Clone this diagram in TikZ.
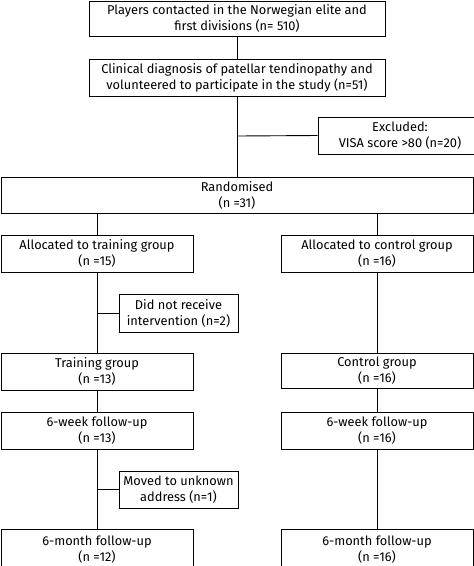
\documentclass[tikz,border=0pt]{standalone}
\usepackage{fontspec}
\setmainfont{Fira Sans}
\begin{document}
\begin{tikzpicture}[x=1pt,y=-1pt,
  box/.style={draw=black,line width=0.9pt,fill=white,align=center,inner sep=0pt,
    font=\fontsize{12.8}{16}\selectfont},
  conn/.style={draw=black,line width=0.9pt}]
\useasboundingbox (0,0) rectangle (474,566);
\node[box,minimum width=296pt,minimum height=35pt] (p1) at (237,18.5) {Players contacted in the Norwegian elite and\\first divisions (n= 510)};
\node[box,minimum width=296pt,minimum height=37pt] (p2) at (237,77.5) {Clinical diagnosis of patellar tendinopathy and\\volunteered to participate in the study (n=51)};
\node[box,minimum width=164pt,minimum height=37pt] (excl) at (400,135.5) {Excluded:\\VISA score >80 (n=20)};
\node[box,minimum width=472pt,minimum height=36pt] (rand) at (237,195) {Randomised\\(n =31)};
\node[box,minimum width=192pt,minimum height=37pt] (at) at (97,253.5) {Allocated to training group\\(n =15)};
\node[box,minimum width=192pt,minimum height=37pt] (ac) at (377,253.5) {Allocated to control group\\(n =16)};
\node[box,minimum width=119pt,minimum height=38pt] (dnr) at (178.5,313) {Did not receive\\intervention (n=2)};
\node[box,minimum width=192pt,minimum height=37pt] (tg) at (97,371.5) {Training group\\(n =13)};
\node[box,minimum width=192pt,minimum height=35pt] (cg) at (377,370.5) {Control group\\(n =16)};
\node[box,minimum width=192pt,minimum height=37pt] (w6l) at (97,430.5) {6-week follow-up\\(n =13)};
\node[box,minimum width=192pt,minimum height=37pt] (w6r) at (377,430.5) {6-week follow-up\\(n =16)};
\node[box,minimum width=119pt,minimum height=37pt] (mv) at (178.5,489.5) {Moved to unknown\\address (n=1)};
\node[box,minimum width=192pt,minimum height=40pt] (m6l) at (97,549.5) {6-month follow-up\\(n =12)};
\node[box,minimum width=192pt,minimum height=40pt] (m6r) at (377,549.5) {6-month follow-up\\(n =16)};
\coordinate (bx) at (237,136);
\coordinate (bd) at (97,313);
\coordinate (bm) at (97,489.5);
\draw[conn] (p1.south) -- (p2.north);
\draw[conn] (p2.south) -- (rand.north);
\draw[conn] (bx) -- (excl.west);
\draw[conn] (at.north |- rand.south) -- (at.north);
\draw[conn] (ac.north |- rand.south) -- (ac.north);
\draw[conn] (at.south) -- (tg.north);
\draw[conn] (bd) -- (dnr.west);
\draw[conn] (ac.south) -- (cg.north);
\draw[conn] (tg.south) -- (w6l.north);
\draw[conn] (cg.south) -- (w6r.north);
\draw[conn] (w6l.south) -- (m6l.north);
\draw[conn] (bm) -- (mv.west);
\draw[conn] (w6r.south) -- (m6r.north);
\end{tikzpicture}
\end{document}
